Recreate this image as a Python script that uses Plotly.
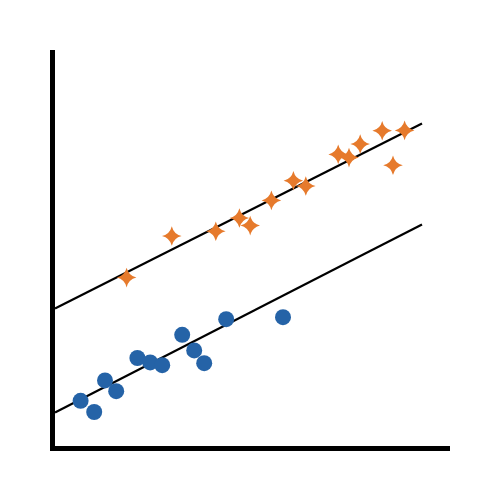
import plotly.graph_objects as go

# lower group (blue circles)
blue_x = [0.64, 0.98, 1.25, 1.53, 2.06, 2.38, 2.68, 3.18, 3.48, 3.73, 4.28, 5.70]
blue_y = [1.13, 0.85, 1.64, 1.37, 2.20, 2.09, 2.02, 2.78, 2.39, 2.07, 3.17, 3.22]

# upper group (orange stars)
orange_x = [1.79, 2.92, 4.02, 4.61, 4.88, 5.41, 5.96, 6.27, 7.08, 7.35, 7.63, 8.18, 8.45, 8.74]
orange_y = [4.21, 5.25, 5.37, 5.70, 5.51, 6.14, 6.63, 6.50, 7.29, 7.21, 7.55, 7.88, 7.02, 7.89]

# fitted lines (end points)
fit_x = [0.0, 9.175]
upper_fit_y = [3.44, 8.06]
lower_fit_y = [0.84, 5.54]

fig = go.Figure()

fig.add_trace(go.Scatter(x=fit_x, y=upper_fit_y, mode='lines',
                         line=dict(color='black', width=2.2), cliponaxis=True))
fig.add_trace(go.Scatter(x=fit_x, y=lower_fit_y, mode='lines',
                         line=dict(color='black', width=2.2), cliponaxis=True))

fig.add_trace(go.Scatter(x=blue_x, y=blue_y, mode='markers',
                         marker=dict(symbol='circle', size=16, color='#2563a7', line=dict(width=0))))
fig.add_trace(go.Scatter(x=orange_x, y=orange_y, mode='markers',
                         marker=dict(symbol='star-diamond', size=14, color='#e67a2c', line=dict(width=0))))

# page body adds 8px, so margins are shifted to compensate
fig.update_layout(
    width=500, height=500,
    showlegend=False,
    paper_bgcolor='white', plot_bgcolor='white',
    margin=dict(l=47, r=58, t=42, b=62),
)
fig.update_xaxes(range=[0, 9.875], showgrid=False, zeroline=False, showticklabels=False,
                 ticks='', showline=True, linecolor='black', linewidth=5)
fig.update_yaxes(range=[0, 9.9], showgrid=False, zeroline=False, showticklabels=False,
                 ticks='', showline=True, linecolor='black', linewidth=5)

fig.write_html("out.html")
